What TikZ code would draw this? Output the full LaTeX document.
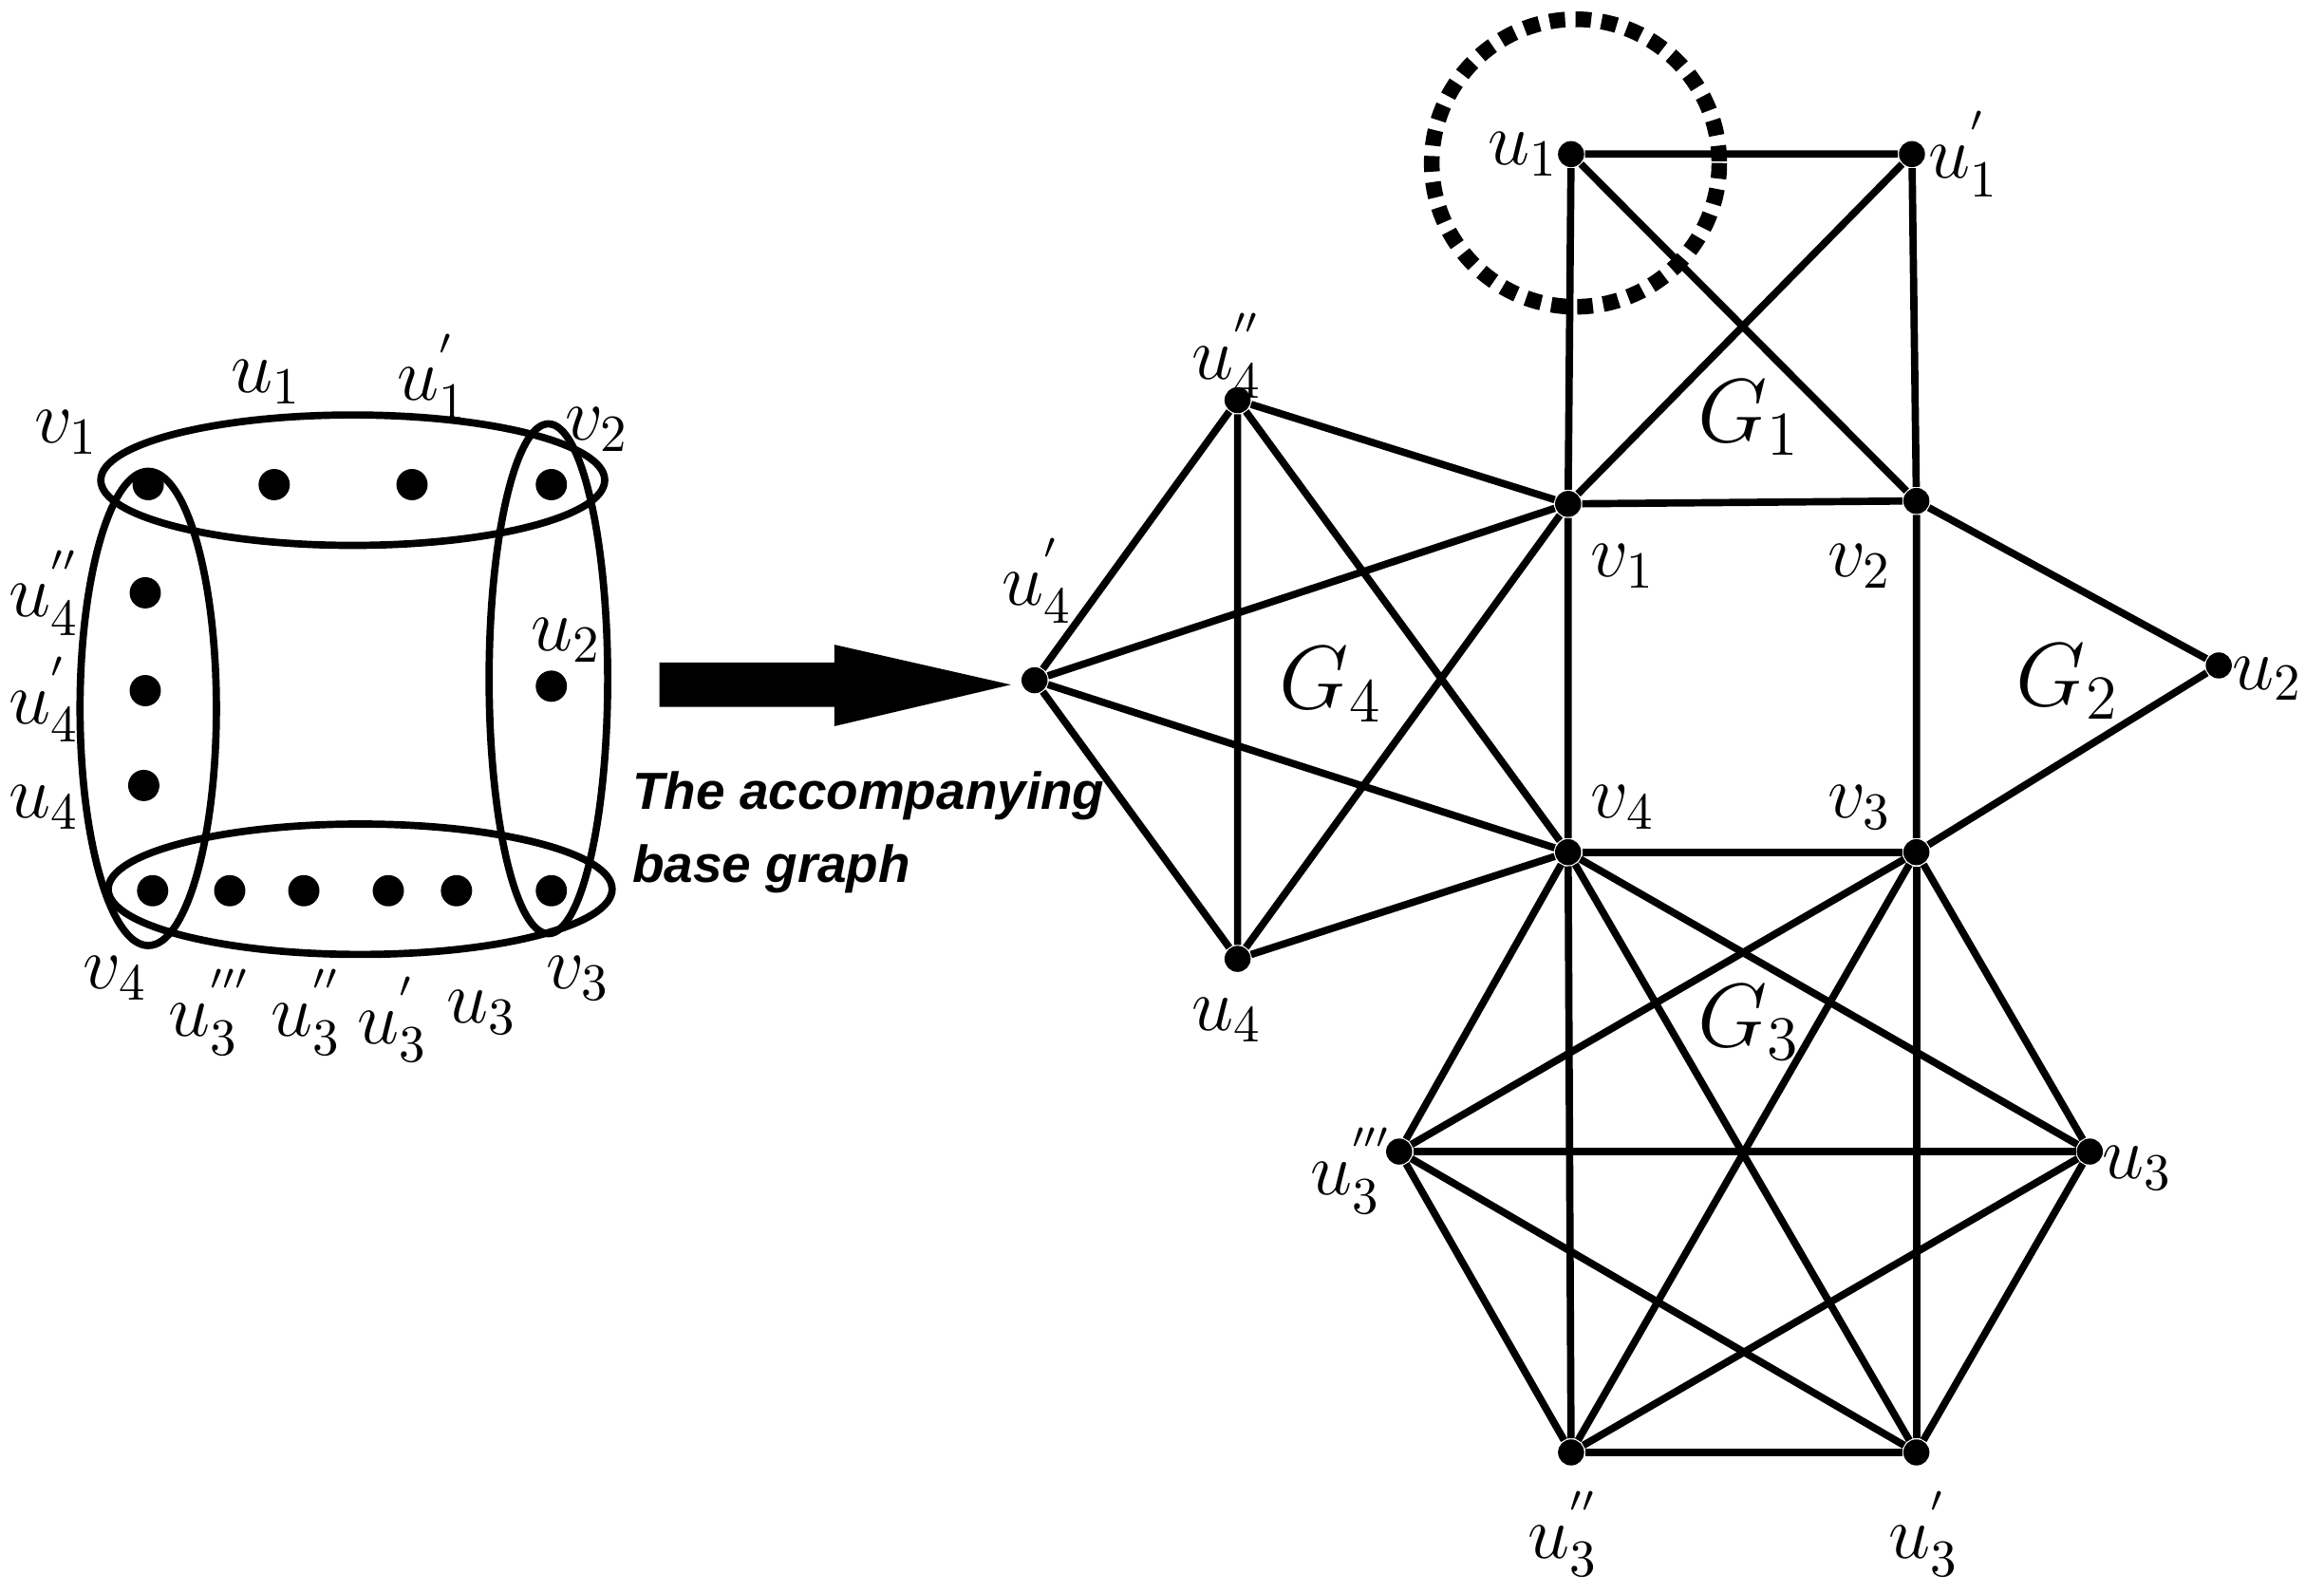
\documentclass[tikz,border=0pt]{standalone}
\usepackage{fontspec}
\setsansfont{Liberation Sans}
\begin{document}
\begin{tikzpicture}[x=0.01cm,y=-0.01cm,
  dot/.style={circle,fill=black,inner sep=0pt,minimum size=5pt},
  lbl/.style={font=\Large},
  edge/.style={line width=1.4pt}]
\useasboundingbox (0,0) rectangle (1568,1074);
		% Ecken rechts
		\node[dot] (u1) at (1060,104) {};
		\node[dot] (u1p) at (1290,104) {};
		\node[dot] (v1) at (1058,340) {};
		\node[dot] (v2) at (1293,338) {};
		\node[dot] (v4) at (1058,575) {};
		\node[dot] (v3) at (1293,575) {};
		\node[dot] (u2) at (1497,449) {};
		\node[dot] (u4pp) at (835,270) {};
		\node[dot] (u4p) at (698,459) {};
		\node[dot] (u4) at (835,647) {};
		\node[dot] (u3ppp) at (944,777) {};
		\node[dot] (u3) at (1410,777) {};
		\node[dot] (u3pp) at (1060,980) {};
		\node[dot] (u3p) at (1293,980) {};
		% Beschriftung
		\node[lbl] at (1028,104) {$u_1$};
		\node[lbl] at (1325,104) {$u_1^{'}$};
		\node[lbl] at (1095,382) {$v_1$};
		\node[lbl] at (1255,382) {$v_2$};
		\node[lbl] at (1095,545) {$v_4$};
		\node[lbl] at (1255,545) {$v_3$};
		\node[lbl] at (1530,458) {$u_2$};
		\node[lbl] at (828,240) {$u_4^{''}$};
		\node[lbl] at (700,392) {$u_4^{'}$};
		\node[lbl] at (828,688) {$u_4$};
		\node[lbl] at (912,790) {$u_3^{'''}$};
		\node[lbl] at (1442,788) {$u_3$};
		\node[lbl] at (1055,1035) {$u_3^{''}$};
		\node[lbl] at (1298,1035) {$u_3^{'}$};
		\node[font=\LARGE] at (1180,282) {$G_1$};
		\node[font=\LARGE] at (1395,460) {$G_2$};
		\node[font=\LARGE] at (898,462) {$G_4$};
		\node[font=\LARGE] at (1180,690) {$G_3$};
		\draw[line width=3pt,dash pattern=on 3pt off 2pt] (1063,110) circle (97);
		% Kanten
		\draw[edge] (u1) -- (u1p) (u1) -- (v1) (u1) -- (v2) (u1p) -- (v1) (u1p) -- (v2) (v1) -- (v2);
		\draw[edge] (v2) -- (u2) (v3) -- (u2) (v2) -- (v3);
		\draw[edge] (u4pp) -- (u4p) (u4pp) -- (u4) (u4pp) -- (v1) (u4pp) -- (v4) (u4p) -- (v1)
		  (u4p) -- (v4) (u4p) -- (u4) (u4) -- (v1) (u4) -- (v4) (v1) -- (v4);
		\foreach \a/\b in {v4/v3,v4/u3,v4/u3p,v4/u3pp,v4/u3ppp,v3/u3,v3/u3p,v3/u3pp,v3/u3ppp,
		  u3/u3p,u3/u3pp,u3/u3ppp,u3p/u3pp,u3p/u3ppp,u3pp/u3ppp}
		  \draw[edge] (\a) -- (\b);
		% links
		\draw[edge] (238,324) ellipse (170 and 44);
		\draw[edge] (243,600) ellipse (170 and 44);
		\draw[edge] (100,478) ellipse (46 and 160);
		\draw[edge] (370,458) ellipse (40 and 172);
		\foreach \p/\q [count=\i] in {100/327,185/327,278/327,372/327,98/400,98/466,97/530,372/463,
		  103/601,155/601,205/601,262/601,308/601,372/601}
		  \node[dot,minimum size=6pt] (a\i) at (\p,\q) {};
		\node[lbl] at (180,258) {$u_1$};
		\node[lbl] at (292,254) {$u_1^{'}$};
		\node[lbl] at (45,292) {$v_1$};
		\node[lbl] at (403,290) {$v_2$};
		\node[lbl] at (30,400) {$u_4^{''}$};
		\node[lbl] at (30,472) {$u_4^{'}$};
		\node[lbl] at (30,545) {$u_4$};
		\node[lbl] at (382,432) {$u_2$};
		\node[lbl] at (78,660) {$v_4$};
		\node[lbl] at (142,683) {$u_3^{'''}$};
		\node[lbl] at (207,683) {$u_3^{''}$};
		\node[lbl] at (265,688) {$u_3^{'}$};
		\node[lbl] at (325,683) {$u_3$};
		\node[lbl] at (390,660) {$v_3$};
		% Pfeil
		\coordinate (pa) at (445,462);
		\fill (pa) ++(0,-15) -- (563,447) -- (563,435) -- (682,462) -- (563,490) -- (563,477) -- (445,477) -- cycle;
		\node[anchor=north west,align=left,font=\sffamily\bfseries\itshape\fontsize{10}{14}\selectfont,inner sep=0pt] at (426,520)
		  {The accompanying\\base graph};
\end{tikzpicture}
\end{document}
